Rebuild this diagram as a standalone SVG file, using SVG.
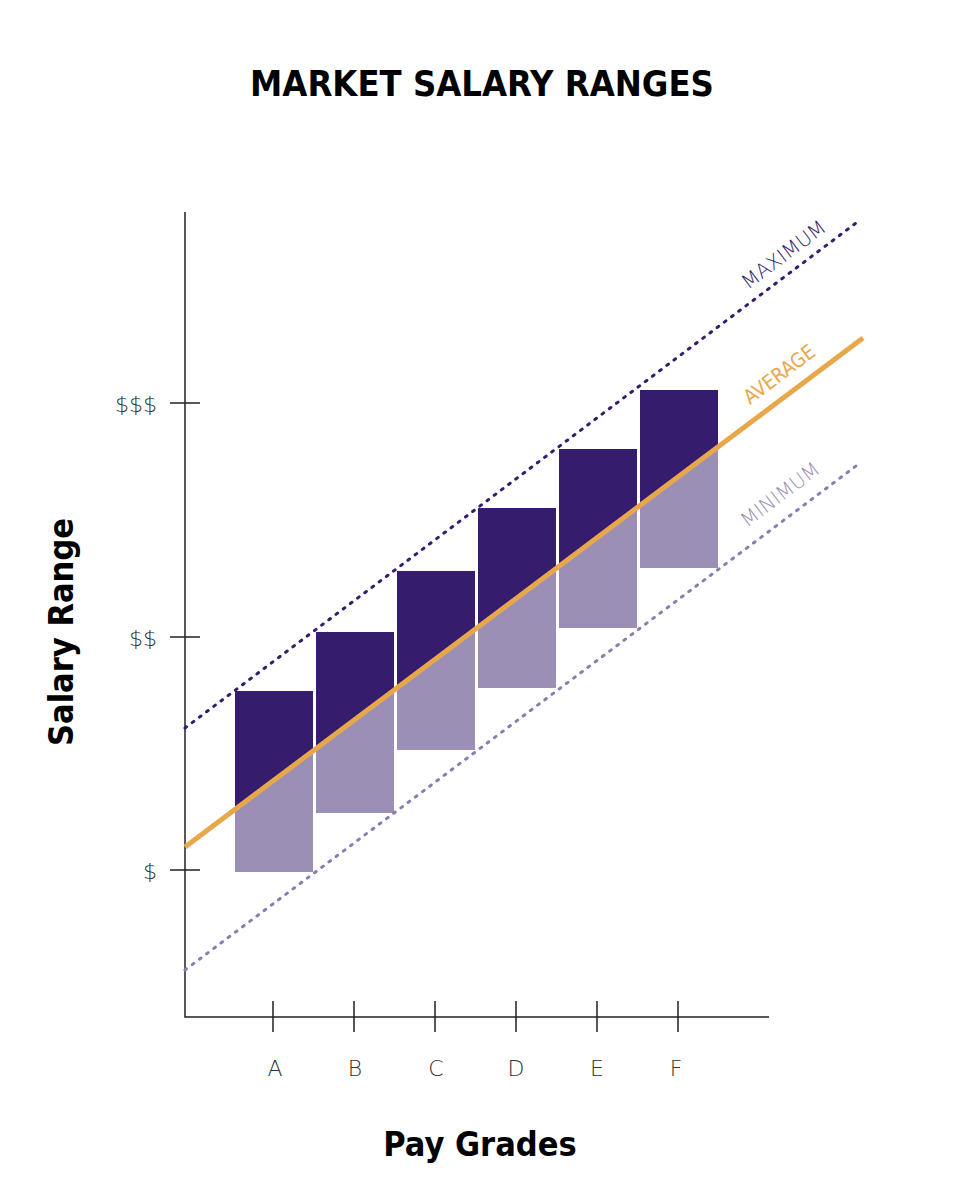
<svg xmlns="http://www.w3.org/2000/svg" width="964" height="1189" viewBox="0 0 964 1189">
<style>
.t{font-family:"DejaVu Sans",sans-serif;font-stretch:condensed;font-weight:bold;fill:#000}
.l{font-family:"DejaVu Sans",sans-serif;font-stretch:condensed;font-weight:200;fill:#333;font-size:22px}
.ax{stroke:#222;stroke-width:1.5;fill:none}
.d{fill:#351c6c}.p{fill:#9b8fb6}
</style>
<rect width="964" height="1189" fill="#fff"/>
<text class="t" x="482" y="96" font-size="36" text-anchor="middle">MARKET SALARY RANGES</text>
<g id="axes" class="ax">
<path d="M185 212V1017H769"/>
<path d="M170 403H200M170 637H200M170 870H200"/>
<path d="M273 1001V1032M354 1001V1032M435 1001V1032M516 1001V1032M597 1001V1032M678 1001V1032"/>
</g>
<g id="labels">
<text class="l" x="157" y="412" text-anchor="end">$$$</text>
<text class="l" x="157" y="646" text-anchor="end">$$</text>
<text class="l" x="157" y="879" text-anchor="end">$</text>
<text class="l" x="275" y="1076" text-anchor="middle">A</text>
<text class="l" x="355" y="1076" text-anchor="middle">B</text>
<text class="l" x="436" y="1076" text-anchor="middle">C</text>
<text class="l" x="516" y="1076" text-anchor="middle">D</text>
<text class="l" x="597" y="1076" text-anchor="middle">E</text>
<text class="l" x="676" y="1076" text-anchor="middle">F</text>
<text class="t" x="0" y="0" font-size="34" text-anchor="middle" transform="translate(73 632) rotate(-90)">Salary Range</text>
<text class="t" x="480" y="1156" font-size="34" text-anchor="middle">Pay Grades</text>
</g>
<g id="bars">
<rect class="d" x="235" y="691" width="78" height="181"/><polygon class="p" points="235,809.5 313,750.9 313,872 235,872"/>
<rect class="d" x="316" y="632" width="78" height="181"/><polygon class="p" points="316,748.6 394,690.0 394,813 316,813"/>
<rect class="d" x="397" y="571" width="78" height="179"/><polygon class="p" points="397,687.8 475,629.2 475,750 397,750"/>
<rect class="d" x="478" y="508" width="78" height="180"/><polygon class="p" points="478,627.0 556,568.4 556,688 478,688"/>
<rect class="d" x="559" y="449" width="78" height="179"/><polygon class="p" points="559,566.1 637,507.5 637,628 559,628"/>
<rect class="d" x="640" y="390" width="78" height="178"/><polygon class="p" points="640,505.3 718,446.7 718,568 640,568"/>
</g>
<g id="connectors">
<path d="M185 728L860 220" stroke="#351c6c" stroke-width="3" stroke-dasharray="2 7" stroke-linecap="round"/>
<path d="M185 970L860 463" stroke="#8a7db0" stroke-width="3" stroke-dasharray="2 7" stroke-linecap="round"/>
<path d="M185 847L863 338" stroke="#e8a74a" stroke-width="5"/>
</g>
<g id="linelabels" font-family="DejaVu Sans,sans-serif" font-stretch="condensed" font-size="20">
<text transform="translate(748 290) rotate(-37)" fill="#351c6c" font-weight="200">MAXIMUM</text>
<text transform="translate(750 405) rotate(-37)" fill="#e8a74a">AVERAGE</text>
<text transform="translate(747 528) rotate(-37)" fill="#9b8fb6" font-weight="200">MINIMUM</text>
</g>
</svg>
